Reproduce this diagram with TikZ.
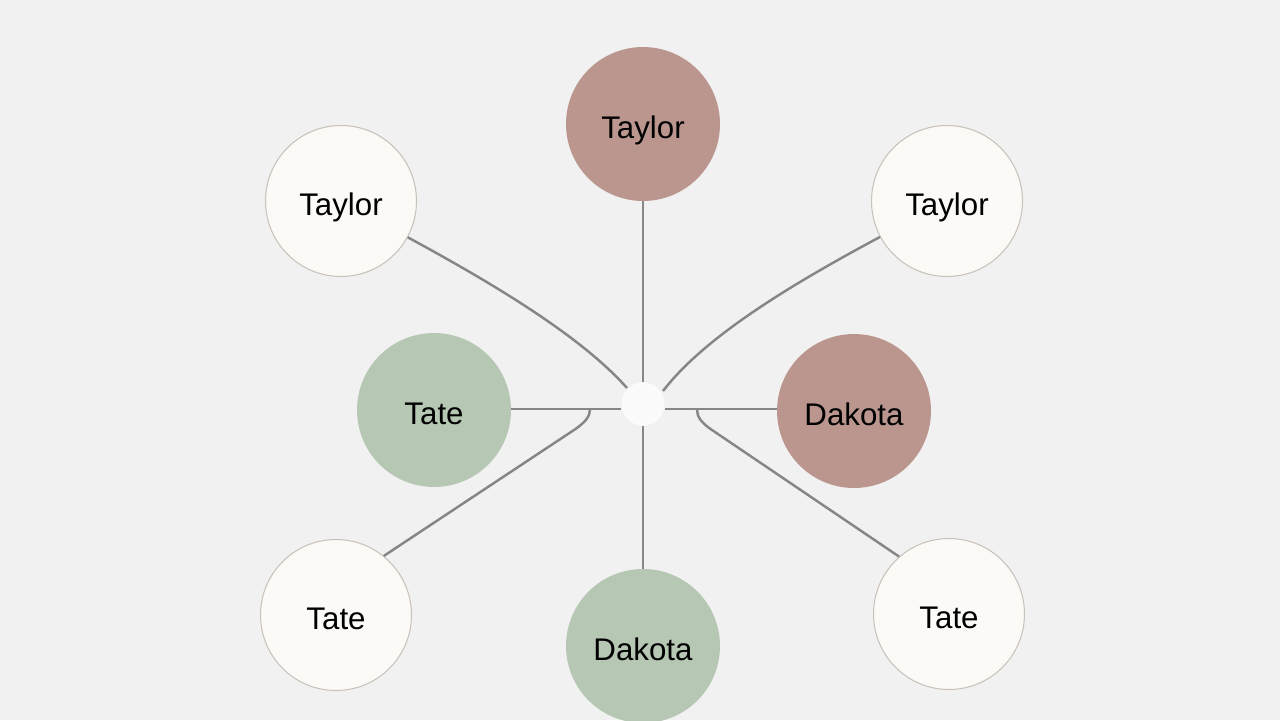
\documentclass[tikz,border=0pt]{standalone}
\usepackage{fontspec}
\setmainfont{Liberation Sans}
\usepackage{xcolor}
\definecolor{bgGray}{HTML}{F1F1F1}
\definecolor{roseNode}{HTML}{BA968F}
\definecolor{sageNode}{HTML}{B6C7B3}
\definecolor{paleNode}{HTML}{FCFAF6}
\definecolor{paleEdge}{HTML}{C9C2BB}
\definecolor{linkGray}{HTML}{858787}
\usetikzlibrary{positioning}

\begin{document}
\begin{tikzpicture}[x=0.02cm, y=-0.02cm,
		person/.style={circle, minimum size=3.08cm, inner sep=0pt, text depth=0pt, text height=17pt,
			font=\fontsize{17.8}{21}\selectfont, text=black},
		rosy/.style={person, fill=roseNode},
		sage/.style={person, fill=sageNode},
		pale/.style={person, fill=paleNode, draw=paleEdge, line width=0.6pt, minimum size=3.02cm},
		link/.style={draw=linkGray, line width=1.4pt}]
				\fill [bgGray] (0,0) rectangle (1280,720);
				\useasboundingbox (0,0) rectangle (1280,720);
				\node[circle, fill=white!70!bgGray, minimum size=0.86cm, inner sep=0pt] (hub) at (643,404) {};
				\node[rosy] (top) at (643,124) {Taylor};
				\node[pale] (tl) at (341,201) {Taylor};
				\node[pale] (tr) at (947,201) {Taylor};
				\node[sage] (left) at (434,410) {Tate};
				\node[rosy] (right) at (854,411) {Dakota};
				\node[pale] (bl) at (336,615) {Tate};
				\node[sage] (bottom) at (643,646) {Dakota};
				\node[pale] (br) at (949,614) {Tate};
				\coordinate (hookL) at (590,409);
				\coordinate (hookR) at (697,409);
				\draw [link] (hub) -- (top);
				\draw [link] (hub) -- (bottom);
				\draw [link] (left.east |- hookL) -- (hub.west |- hookL);
				\draw [link] (hub.east |- hookR) -- (right.west |- hookR);
				\draw [link] (tl) .. controls (490,282) and (580,335) .. (627,388);
				\draw [link] (tr) .. controls (796,282) and (706,335) .. (663,391);
				\draw [link] (bl.51) -- (574,430) .. controls (586,422) and (590,416) .. (hookL);
				\draw [link] (br.131) -- (712,430) .. controls (700,422) and (697,416) .. (hookR);
			\end{tikzpicture}
\end{document}
